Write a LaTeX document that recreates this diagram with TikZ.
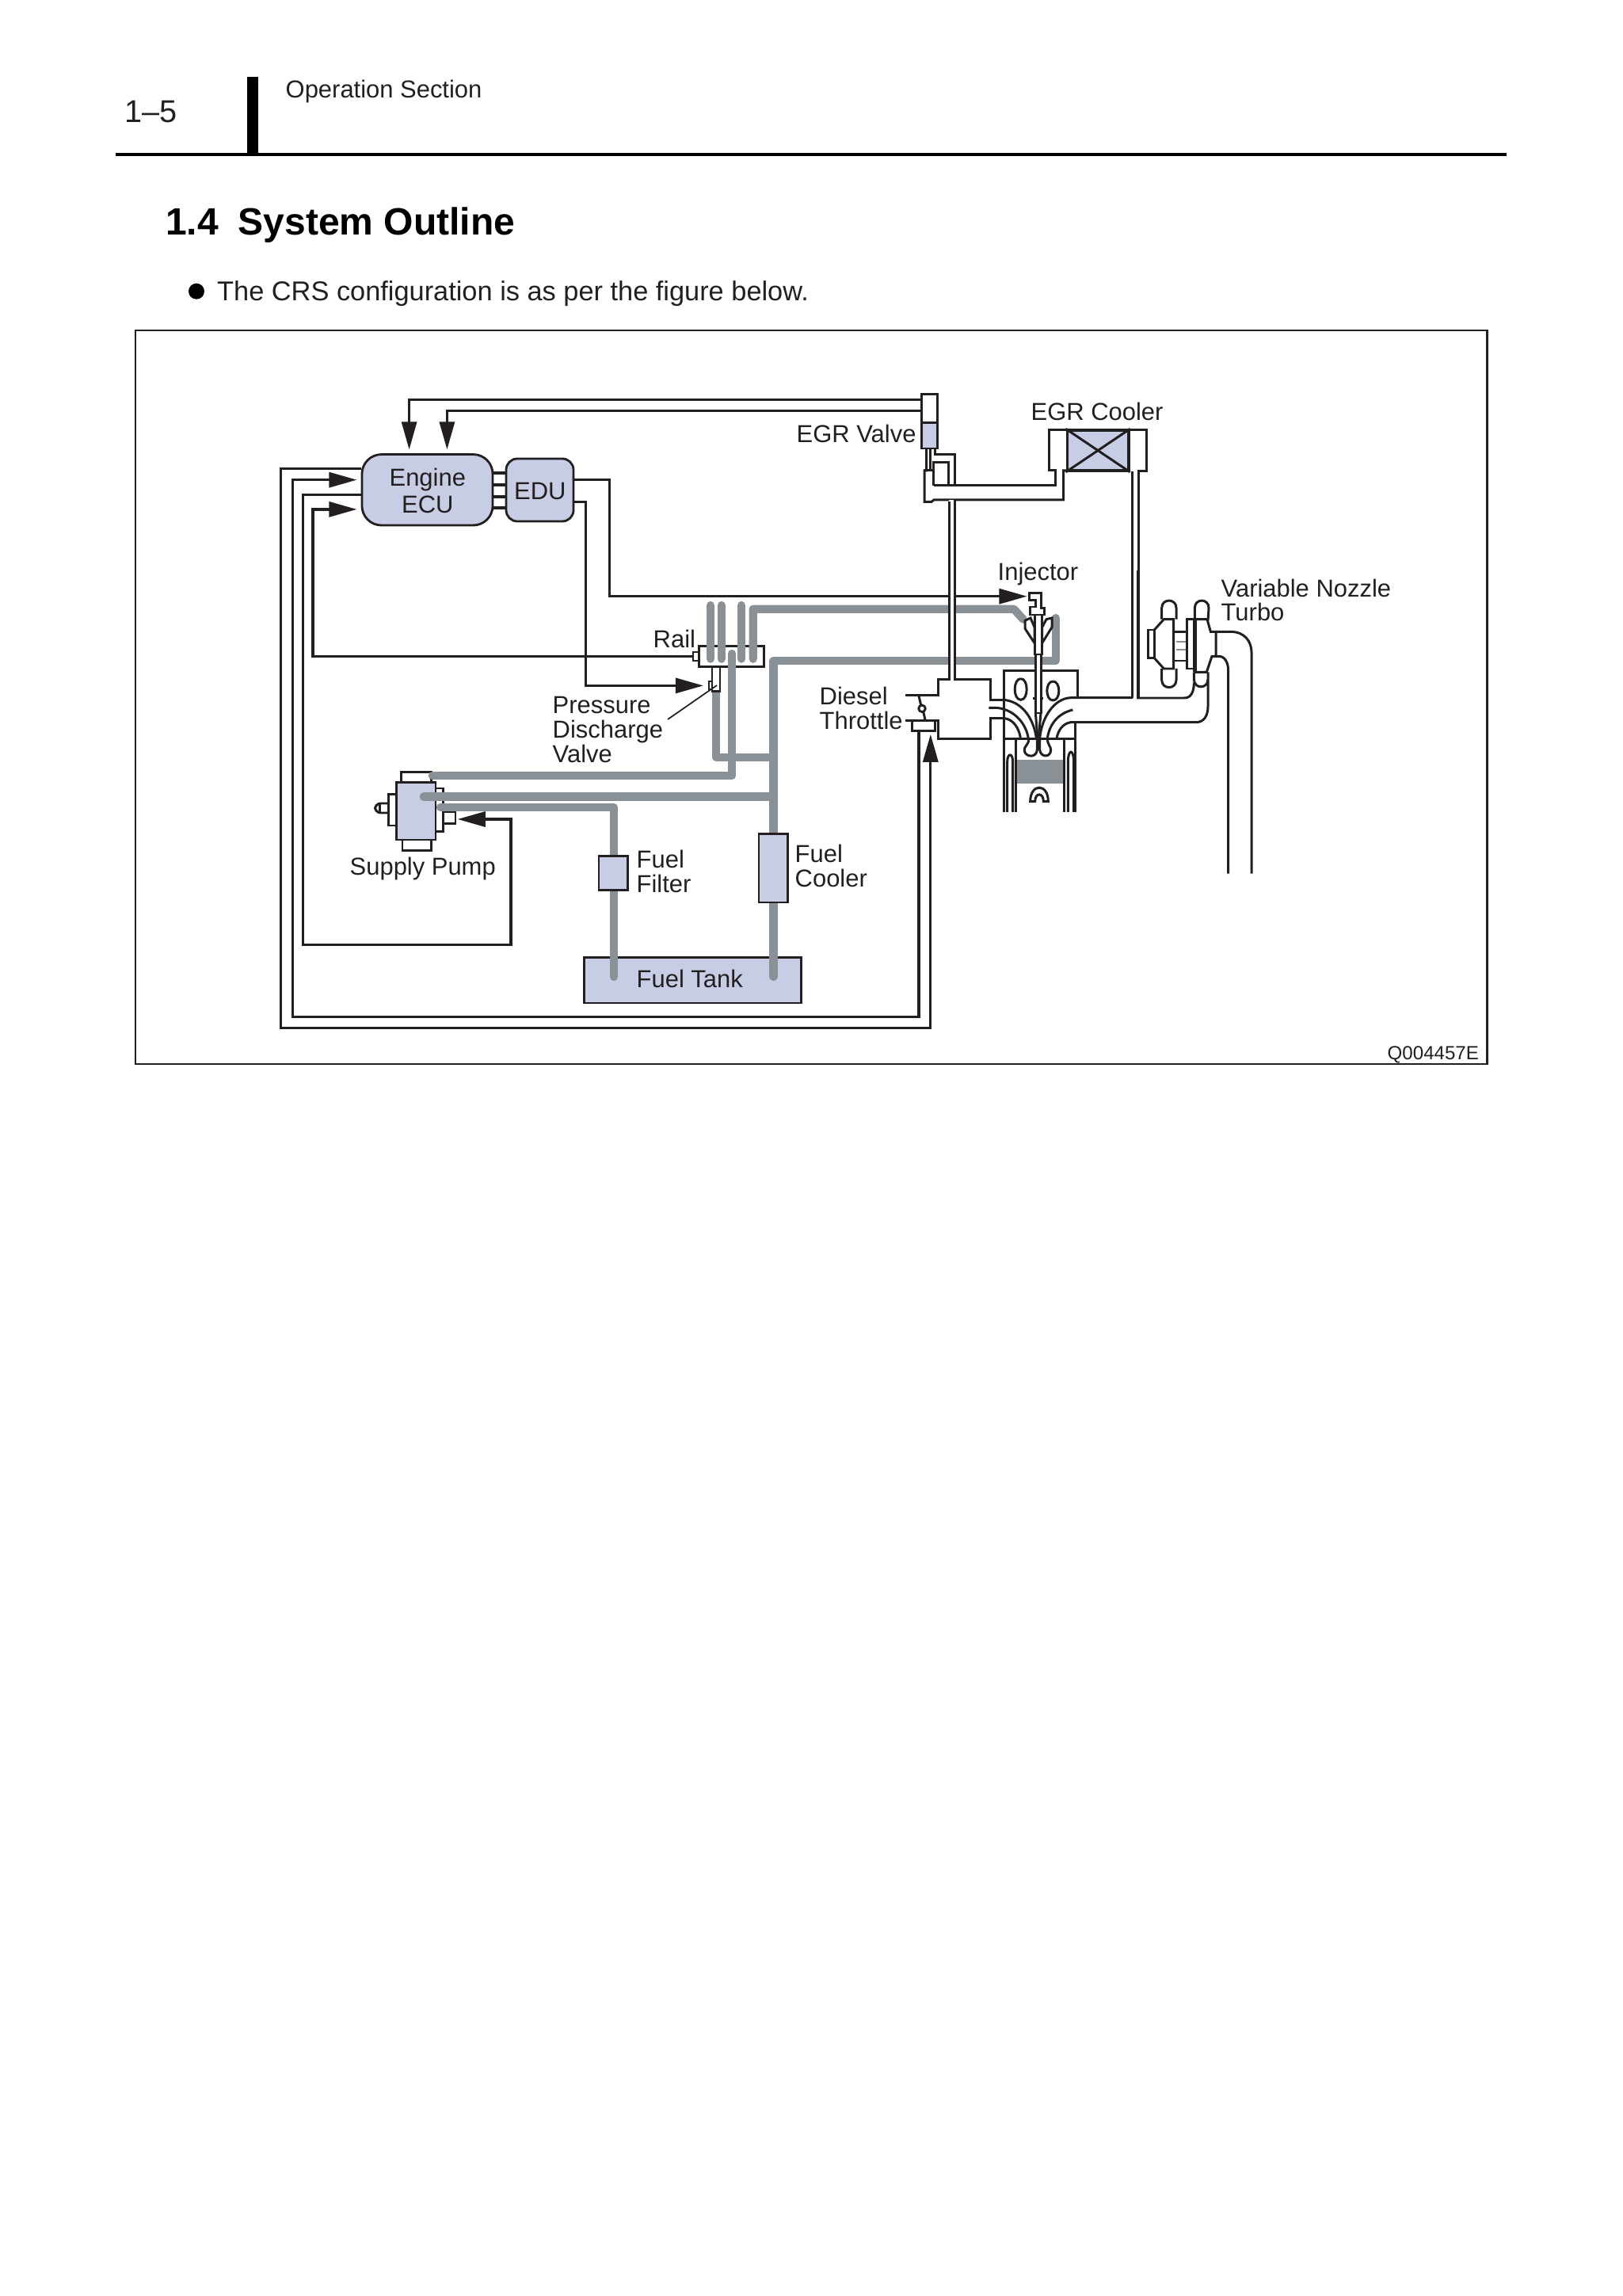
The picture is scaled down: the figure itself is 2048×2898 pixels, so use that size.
\documentclass[tikz,border=0pt]{standalone}
\usepackage{fontspec}
\setmainfont{Liberation Sans}
\usetikzlibrary{arrows.meta}
\definecolor{partblue}{HTML}{C8CDE6}
\definecolor{pipegray}{HTML}{8A9196}
\definecolor{inkblack}{HTML}{231F20}
\tikzset{
  sigline/.style={draw=inkblack, line width=0.95pt, line join=miter},
  flowarrow/.style={sigline, -{Triangle[length=10pt, width=5.4pt]}},
  outline/.style={draw=inkblack, line width=0.85pt, line join=miter},
  fuelpipe/.style={draw=pipegray, line width=2.9pt, line cap=round, line join=round},
  partbox/.style={draw=inkblack, line width=0.8pt, fill=partblue, inner sep=0pt},
  whitebox/.style={draw=inkblack, line width=0.8pt, fill=white, inner sep=0pt},
  partlabel/.style={inner sep=0pt, anchor=base west, align=left, text=inkblack, font=\fontsize{8.8}{8.8}\selectfont},
  unitlabel/.style={partlabel, anchor=base, align=center, font=\fontsize{8.8}{9.7}\selectfont}
}
\begin{document}
\begin{tikzpicture}[x=0.01cm, y=-0.01cm]
  \useasboundingbox (0,0) rectangle (2048,2898);
  % page head
  \node[partlabel, font=\fontsize{11.3}{12}\selectfont] (pageno) at (157,155) {1--5};
  \node[partlabel, font=\fontsize{8.8}{9}\selectfont] (sectionname) at (360,124) {Operation Section};
  \node[partlabel, text=black, font=\bfseries\fontsize{13.65}{14}\selectfont] (heading) at (208.5,296.5) {1.4\hspace{0.52em}System Outline};
  \node[circle, fill=black, minimum size=0.2cm, inner sep=0pt] (bullet) at (248,367.7) {};
  \node[partlabel, font=\fontsize{9.77}{10}\selectfont] (introline) at (273.5,379.8) {The CRS configuration is as per the figure below.};
  \coordinate (headleft) at (146,195);
  \coordinate (headright) at (1902,195);
  \draw[black, line width=1.1pt] (headleft) -- (headright);
  \fill[black] (312.4,97) rectangle (326.4,195);
  \node[draw=inkblack, line width=0.6pt, minimum width=17.056cm, minimum height=9.255cm, inner sep=0pt] (frame) at (1024.2,880.3) {};
  \node[partlabel, font=\fontsize{6.85}{7}\selectfont] (figcode) at (1751,1337) {Q004457E};

  % parts that the fuel pipes run over
  \node[partbox, minimum width=2.741cm, minimum height=0.577cm] (tank) at (874.6,1237.2) {};
  \node[whitebox, minimum width=0.82cm, minimum height=0.264cm] (rail) at (923.4,828.5) {};
  \node[whitebox, minimum width=0.077cm, minimum height=0.11cm] (railnub) at (878.9,828.5) {};
  \node[whitebox, minimum width=0.38cm, minimum height=0.13cm] (pumptop) at (525.4,980.8) {};
  \node[whitebox, minimum width=0.364cm, minimum height=0.133cm] (pumpbase) at (526.2,1066.6) {};
  \node[whitebox, minimum width=0.097cm, minimum height=0.543cm] (pumpright) at (554.9,1022.2) {};
  \node[whitebox, minimum width=0.153cm, minimum height=0.143cm] (pumpinlet) at (567.4,1032.2) {};
  \node[whitebox, minimum width=0.096cm, minimum height=0.397cm] (pumpleft) at (495.6,1022.2) {};
  \draw[outline, rounded corners=2pt] (490.8,1014) -- (473.6,1014) -- (473.6,1026) -- (490.8,1026);
  \draw[outline] (479.5,1014) -- (479.5,1026);
  \node[partbox, minimum width=0.496cm, minimum height=0.727cm] (pump) at (525.2,1023.7) {};

  % fuel pipes
  \coordinate (drainA) at (897,764);
  \coordinate (drainB) at (910.7,764);
  \coordinate (drainC) at (936,764);
  \draw[fuelpipe] (drainA) -- (897,831.7);
  \draw[fuelpipe] (drainB) -- (910.7,831.7);
  \draw[fuelpipe] (drainC) -- (936,831.7);
  \draw[fuelpipe] (950.7,831.7) -- (950.7,768.7) -- (1280,768.7) -- (1291.7,781.7);
  \draw[fuelpipe] (924.3,825) -- (924.3,979.3) -- (pumptop.east |- 0,979.3);
  \draw[fuelpipe] (1332.7,780) -- (1332.7,834) -- (976.5,834) -- (976.5,1233);
  \draw[fuelpipe] (534.8,1005.5) -- (976.5,1005.5);
  \draw[fuelpipe] (555.9,1019) -- (775,1019) -- (775,1233);

  % parts over the fuel pipes
  \node[partbox, minimum width=0.364cm, minimum height=0.426cm] (filter) at (774.2,1102) {};
  \node[partbox, minimum width=0.364cm, minimum height=0.867cm] (cooler) at (976.2,1095.7) {};
  \node[whitebox, minimum width=0.1cm, minimum height=0.31cm] (dischargevalve) at (904,857.2) {};
  \draw[fuelpipe, line cap=butt] (dischargevalve.south) -- (904,955.7) -- (976.5,955.7);
  \node[whitebox, minimum width=0.04cm, minimum height=0.1cm] (valvenub) at (897,865) {};

  % control unit
  \node[partbox, minimum width=1.65cm, minimum height=0.894cm, rounded corners=7pt] (ecu) at (539.5,618.3) {};
  \node[partbox, minimum width=0.85cm, minimum height=0.79cm, rounded corners=4pt] (edu) at (681.5,618.5) {};
  \node[unitlabel] (ecuname) at (539.8,648) {Engine\\ECU};
  \node[unitlabel] (eduname) at (681.8,630.5) {EDU};
  \draw[sigline] (ecu.east |- 0,597) -- (edu.west |- 0,597);
  \draw[sigline] (ecu.east |- 0,612) -- (edu.west |- 0,612);
  \draw[sigline] (ecu.east |- 0,627) -- (edu.west |- 0,627);
  \draw[sigline] (ecu.east |- 0,641) -- (edu.west |- 0,641);

  % EGR valve and cooler
  \node[whitebox, minimum width=0.199cm, minimum height=0.36cm] (egrcap) at (1173.8,515.3) {};
  \node[partbox, minimum width=0.199cm, minimum height=0.327cm] (egrvalve) at (1173.8,549.7) {};
  \draw[outline] (1169.5,566) -- (1169.5,594) -- (1167.2,594) -- (1167.2,633.3) -- (1176,633.3) -- (1179,631) -- (1342.5,631) -- (1342.5,594) -- (1347.5,594);
  \draw[outline] (1174,566) -- (1174,594);
  \draw[outline] (1167.2,594) -- (1178.7,594);
  \draw[outline] (1180.6,566) -- (1180.6,573.3) -- (1205.9,573.3) -- (1205.9,612.7);
  \draw[outline] (1178.7,612.7) -- (1178.7,584) -- (1197.9,584) -- (1197.9,612.7);
  \draw[outline] (1178.7,612.7) -- (1332.2,612.7) -- (1332.2,594) -- (1324.5,594) -- (1324.5,542.3) -- (1447.8,542.3) -- (1447.8,595) -- (1437.2,595) -- (1437.2,880.7);
  \draw[outline] (1429.4,595) -- (1429.4,880.7);
  \node[partbox, line width=1.1pt, minimum width=0.773cm, minimum height=0.507cm] (egrcore) at (1386.1,568.6) {};
  \draw[outline] (egrcore.north west) -- (egrcore.south east);
  \draw[outline] (egrcore.south west) -- (egrcore.north east);

  % throttle
  \node[whitebox, minimum width=0.29cm, minimum height=0.127cm] (throttle) at (1166.2,916.3) {};
  \draw[outline] (1160,878.3) -- (1162.7,890.3);
  \node[whitebox, circle, minimum size=0.085cm] (throttlepin) at (1164,894.3) {};
  \draw[outline] (1165.7,898.3) -- (1168.3,910);

  % signal lines
  \coordinate (injectortip) at (1296.6,752.7);
  \coordinate (throttletip) at (1174.8,926.7);
  \coordinate (pumptip) at (577.7,1034);
  \coordinate (railtip) at (888,865.4);
  \draw[flowarrow, shorten >=1pt] (egrcap.west |- 0,504.4) -| (516.6,571);
  \draw[flowarrow, shorten >=1pt] (egrcap.west |- 0,518.8) -| (564.4,571);
  \draw[flowarrow] (ecu.west |- 0,591.4) -| (354.5,1297.3) -| (throttletip);
  \draw[flowarrow] (throttle.south -| 1160,922.7) |- (369.3,1283.3) |- (450.5,605.7);
  \draw[flowarrow] (ecu.west |- 0,624.6) -| (382.7,1192.7) -| (645,1034) -- (pumptip);
  \draw[flowarrow] (railnub.west) -| (395,642.9) -- (450.5,642.9);
  \draw[flowarrow] (edu.east |- 0,605.7) -| (769.7,752.7) -- (injectortip);
  \draw[flowarrow] (edu.east |- 0,633.6) -| (739.8,865.4) -- (railtip);

  % EGR pipe, it crosses over the lines above
  \fill[white] (1198.2,631) rectangle (1205.9,857.3);
  \draw[outline] (1198.2,633) -- (1198.2,857.3) -- (1184.7,857.3) -- (1184.7,877.7) -- (1142.7,877.7);
  \draw[outline] (1205.9,631) -- (1205.9,857.3) -- (1250.7,857.3) -- (1250.7,883.3) -- (1267,883.3);
  \draw[outline] (1142.7,909.3) -- (1184.7,909.3) -- (1184.7,932.3) -- (1250.7,932.3) -- (1250.7,906.7) -- (1267,906.7);

  % injector and cylinder, in the units of a 3x crop
  \begin{scope}[shift={(1230,730)}, scale=1/3]
    \fill[pipegray] (158,688) rectangle (340,778);
    \draw[outline] (113,885) -- (113,350) -- (390,350) -- (390,452);
    \draw[outline] (383,545) -- (383,885);
    \draw[outline] (113,607) -- (383,607);
    \draw[outline] (157,607) -- (157,885);
    \draw[outline] (340,607) -- (340,885);
    \draw[outline] (125,885) -- (125,695) .. controls (125,660) and (146,660) .. (146,695) -- (146,885);
    \draw[outline] (355,885) -- (355,695) .. controls (355,645) and (377,645) .. (377,695) -- (377,885);
    % ports
    \draw[outline] (110,460) .. controls (180,465) and (225,530) .. (235,605);
    \draw[outline] (55,490) -- (80,490) .. controls (140,492) and (195,540) .. (205,607);
    \draw[outline] (115,530) .. controls (150,535) and (170,570) .. (175,605);
    \draw[outline] (600,452) -- (365,452) .. controls (300,455) and (255,530) .. (248,605);
    \draw[outline] (373,498) .. controls (320,510) and (285,550) .. (277,605);
    \draw[outline] (840,545) -- (365,545) .. controls (335,550) and (318,575) .. (312,605);
    % valves
    \draw[outline] (205,607) .. controls (210,630) and (185,635) .. (190,655) .. controls (197,678) and (235,680) .. (238,650) -- (238,607);
    \draw[outline] (248,607) -- (248,650) .. controls (252,680) and (290,678) .. (290,650) .. controls (290,635) and (277,630) .. (277,607);
    \draw[outline] (176,380) .. controls (146,380) and (146,460) .. (176,460) .. controls (206,460) and (206,380) .. (176,380);
    \draw[outline] (298,390) .. controls (268,390) and (268,462) .. (298,462) .. controls (328,462) and (328,390) .. (298,390);
    % pin
    \draw[outline] (212,845) .. controls (212,775) and (280,775) .. (280,845) -- (262,845) .. controls (262,810) and (230,810) .. (230,845) -- cycle;
    % stem
    \draw[outline, fill=white] (232,288) -- (232,510) -- (252,510) -- (252,288) -- cycle;
    \draw[outline] (232,510) -- (240,607);
    \draw[outline] (252,510) -- (243,607);
    \fill[inkblack] (222,450) rectangle (232,460);
    \fill[inkblack] (252,450) rectangle (262,460);
    \draw[outline, fill=white] (192,160) -- (213,150) -- (228,185) -- (228,245) -- (192,190) -- cycle;
    \draw[outline, fill=white] (294,150) -- (294,185) -- (257,245) -- (257,185) -- (273,155) -- cycle;
    \draw[outline, fill=white] (228,138) rectangle (257,288);
    \draw[outline, fill=white] (208,55) -- (252,55) -- (252,112) -- (265,112) -- (265,138) -- (210,138) -- (210,108) -- (232,108) -- (232,82) -- (208,82) -- cycle;
  \end{scope}

  % turbo
  \begin{scope}[shift={(1430,720)}, scale=1/3]
    \draw[outline] (57,225) rectangle (82,332);
    \draw[outline] (82,225) -- (118,185) -- (155,185) -- (155,372) -- (118,372) -- (82,332);
    \draw[outline] (110,185) -- (110,142) .. controls (110,105) and (165,105) .. (165,142) -- (165,185);
    \draw[outline] (110,372) -- (110,415) .. controls (110,452) and (165,452) .. (165,415) -- (165,372);
    \draw[outline] (155,232) -- (205,232);
    \draw[outline] (155,342) -- (205,342);
    \draw[pipegray, line width=0.8pt] (165,270) -- (205,270);
    \draw[pipegray, line width=0.8pt] (165,300) -- (205,300);
    \draw[outline] (205,185) rectangle (232,372);
    \draw[outline, line width=1.3pt] (236,185) -- (236,385);
    \draw[outline] (232,185) -- (282,185) -- (295,232) -- (315,232) -- (315,325) -- (300,325) -- (280,385) -- (232,385);
    \draw[outline] (235,185) -- (235,142) .. controls (235,105) and (288,105) .. (288,142) -- (285,190);
    \draw[outline] (232,385) -- (232,412) .. controls (232,450) and (285,450) .. (285,412) -- (285,385);
    \draw[outline] (315,232) -- (370,232) .. controls (425,232) and (450,270) .. (450,310) -- (450,1148);
    \draw[outline] (315,325) -- (325,325) .. controls (350,325) and (362,350) .. (362,380) -- (362,1148);
    \draw[outline] (20,0) -- (20,483) -- (195,483) .. controls (218,483) and (232,465) .. (232,425);
    \draw[outline] (240,575) .. controls (270,575) and (285,550) .. (285,515) -- (285,415);
  \end{scope}

  % labels
  \node[partlabel] (railname) at (824,817.3) {Rail};
  \node[partlabel] (dischargename) at (697,962) {Pressure\\Discharge\\Valve};
  \coordinate (leaderend) at (905,865);
  \draw[inkblack, line width=0.5pt] (843,908) -- (leaderend);
  \node[partlabel] (throttlename) at (1034,920.7) {Diesel\\Throttle};
  \node[partlabel] (egrvalvename) at (1005,558.3) {EGR Valve};
  \node[partlabel] (egrcoolername) at (1301,530.7) {EGR Cooler};
  \node[partlabel] (injectorname) at (1259,732.7) {Injector};
  \node[partlabel] (turboname) at (1541,784) {Variable Nozzle\\Turbo};
  \node[partlabel] (pumpname) at (441,1104) {Supply Pump};
  \node[partlabel] (filtername) at (803,1126.5) {Fuel\\Filter};
  \node[partlabel] (coolername) at (1003,1119.5) {Fuel\\Cooler};
  \node[partlabel] (tankname) at (803,1246.5) {Fuel Tank};
\end{tikzpicture}
\end{document}
